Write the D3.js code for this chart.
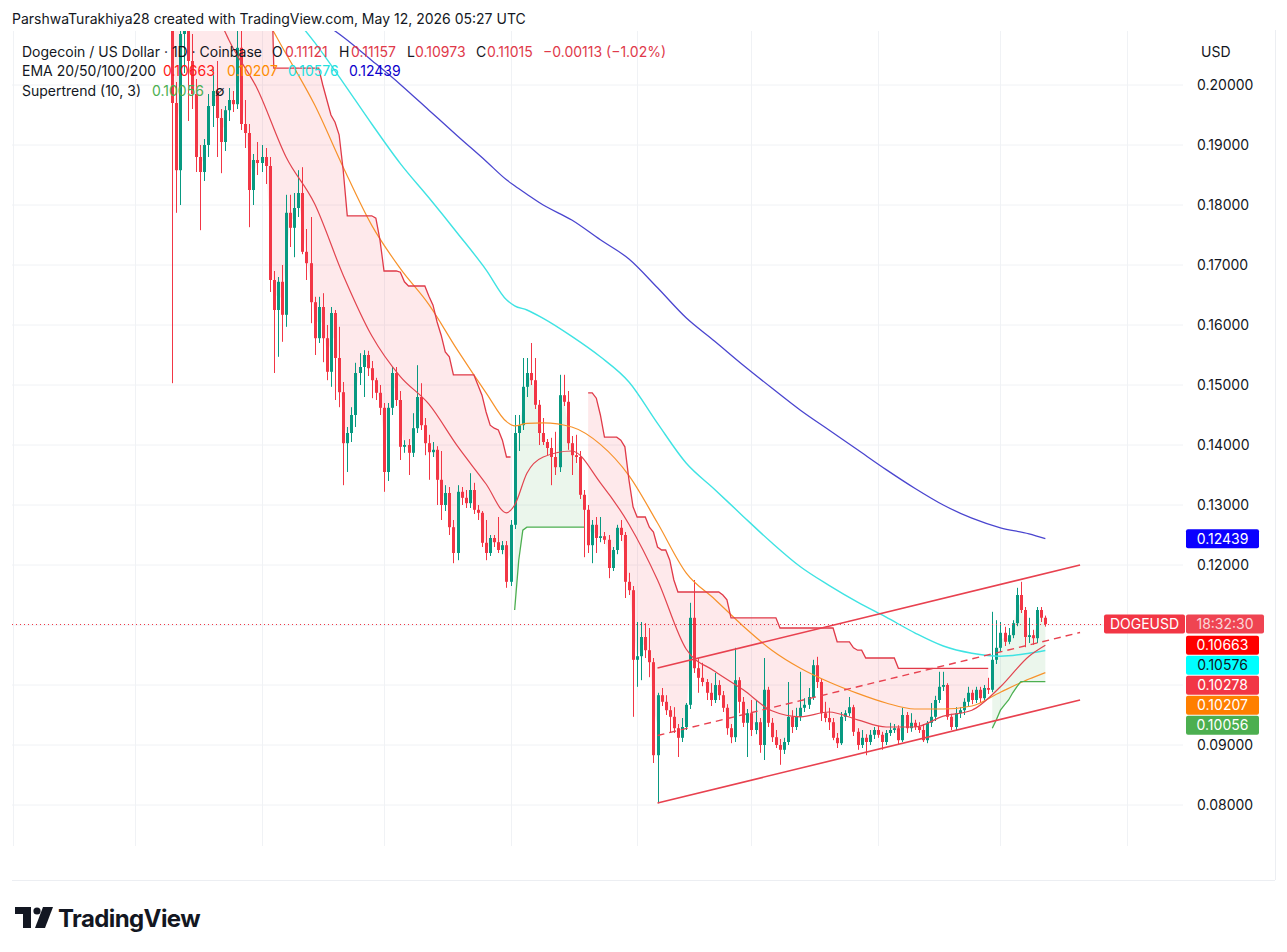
<!DOCTYPE html>
<html><head><meta charset="utf-8">
<script src="https://cdn.jsdelivr.net/npm/d3@7"></script>
<style>
body{margin:0;background:#fff;}
svg{display:block;font-family:Inter,"Noto Sans",Roboto,sans-serif;}
</style></head><body>
<svg id="c" width="1287" height="952"></svg>
<script>
// ---------- DATA ----------
const firstDate = "2025-10-10"; // one daily bar per day from here
const opens = [
0.2510,0.1970,0.1858,0.2085,0.2130,0.2040,0.1985,
0.1880,0.1855,0.1900,0.1965,0.1990,0.1945,0.1905,
0.1958,0.1975,0.1968,0.2062,0.1935,0.1920,0.1825,
0.1875,0.1870,0.1880,0.1865,0.1675,0.1625,0.1672,
0.1617,0.1787,0.1762,0.1795,0.1820,0.1722,0.1703,
0.1638,0.1578,0.1630,0.1578,0.1522,0.1620,0.1545,
0.1488,0.1403,0.1420,0.1450,0.1520,0.1530,0.1550,
0.1528,0.1508,0.1487,0.1462,0.1355,0.1462,0.1520,
0.1475,0.1397,0.1400,0.1387,0.1428,0.1480,0.1433,
0.1403,0.1388,0.1392,0.1342,0.1300,0.1320,0.1263,
0.1220,0.1322,0.1312,0.1303,0.1325,0.1292,0.1287,
0.1237,0.1220,0.1245,0.1238,0.1225,0.1233,0.1172,
0.1267,0.1420,0.1433,0.1497,0.1520,0.1508,0.1467,
0.1420,0.1405,0.1395,0.1380,0.1363,0.1483,0.1472,
0.1403,0.1383,0.1380,0.1317,0.1292,0.1233,0.1267,
0.1245,0.1248,0.1242,0.1195,0.1225,0.1262,0.1250,
0.1172,0.1158,0.1042,0.1048,0.1080,0.1058,0.1038,
0.0883,0.0983,0.0972,0.0958,0.0947,0.0928,0.0912,
0.0930,0.0967,0.1112,0.1028,0.1012,0.1005,0.0987,
0.0975,0.1000,0.0983,0.0962,0.0928,0.0913,0.1008,
0.0972,0.0937,0.0953,0.0925,0.0938,0.0900,0.0992,
0.0937,0.0913,0.0900,0.0892,0.0905,0.0947,0.0930,
0.0947,0.0962,0.0967,0.0980,0.1033,0.1005,0.0953,
0.0945,0.0938,0.0912,0.0903,0.0947,0.0953,0.0963,
0.0922,0.0900,0.0912,0.0905,0.0917,0.0925,0.0917,
0.0905,0.0920,0.0925,0.0928,0.0908,0.0950,0.0928,
0.0937,0.0930,0.0925,0.0908,0.0937,0.0947,0.0975,
0.0997,0.1000,0.0947,0.0930,0.0953,0.0958,0.0972,
0.0987,0.0975,0.0992,0.0978,0.0995,0.0992,0.1042,
0.1062,0.1087,0.1072,0.1083,0.1103,0.1150,0.1125,
0.1080,0.1083,0.1078,0.1125,0.11121];
const highs = [
0.2550,0.2005,0.2110,0.2190,0.2150,0.2085,0.2010,
0.1900,0.1910,0.1985,0.2030,0.2040,0.1960,0.1965,
0.1995,0.1990,0.2090,0.2095,0.1975,0.1935,0.1885,
0.1905,0.1900,0.1895,0.1880,0.1690,0.1680,0.1700,
0.1817,0.1817,0.1820,0.1858,0.1863,0.1760,0.1780,
0.1647,0.1647,0.1653,0.1600,0.1630,0.1625,0.1597,
0.1505,0.1430,0.1463,0.1537,0.1553,0.1558,0.1557,
0.1540,0.1512,0.1500,0.1470,0.1470,0.1530,0.1530,
0.1490,0.1408,0.1410,0.1453,0.1533,0.1503,0.1445,
0.1417,0.1405,0.1398,0.1390,0.1333,0.1330,0.1275,
0.1333,0.1330,0.1325,0.1353,0.1337,0.1300,0.1290,
0.1275,0.1250,0.1250,0.1280,0.1240,0.1240,0.1275,
0.1450,0.1450,0.1545,0.1545,0.1570,0.1545,0.1475,
0.1445,0.1410,0.1412,0.1422,0.1517,0.1517,0.1490,
0.1415,0.1417,0.1390,0.1325,0.1300,0.1275,0.1280,
0.1280,0.1255,0.1250,0.1230,0.1267,0.1275,0.1255,
0.1187,0.1165,0.1105,0.1105,0.1103,0.1095,0.1045,
0.0987,0.0995,0.0983,0.0965,0.0963,0.0935,0.0945,
0.0970,0.1137,0.1175,0.1045,0.1037,0.1010,0.1003,
0.1020,0.1008,0.0990,0.0968,0.0935,0.1062,0.1013,
0.0980,0.0960,0.0975,0.0975,0.0945,0.1045,0.0997,
0.0945,0.0925,0.0910,0.0912,0.1005,0.0958,0.0962,
0.1022,0.0978,0.0995,0.1042,0.1047,0.1010,0.0972,
0.0962,0.0945,0.0920,0.0955,0.0958,0.0980,0.0967,
0.0928,0.0925,0.0918,0.0925,0.0930,0.0932,0.0922,
0.0925,0.0937,0.0935,0.0933,0.0962,0.0955,0.0953,
0.0942,0.0938,0.0935,0.0940,0.0970,0.0982,0.1022,
0.1022,0.1003,0.0952,0.0963,0.0963,0.0978,0.0997,
0.0992,0.0997,0.0997,0.1000,0.1012,0.1122,0.1108,
0.1105,0.1097,0.1095,0.1108,0.1162,0.1172,0.1130,
0.1112,0.1092,0.1130,0.1130,0.11157];
const lows = [
0.1503,0.1787,0.1800,0.2020,0.1940,0.1960,0.1855,
0.1758,0.1840,0.1880,0.1930,0.1880,0.1853,0.1890,
0.1940,0.1955,0.1960,0.1925,0.1895,0.1763,0.1800,
0.1850,0.1855,0.1835,0.1655,0.1520,0.1547,0.1572,
0.1597,0.1730,0.1713,0.1780,0.1718,0.1675,0.1603,
0.1550,0.1570,0.1538,0.1508,0.1497,0.1475,0.1463,
0.1333,0.1355,0.1405,0.1430,0.1500,0.1480,0.1515,
0.1478,0.1475,0.1450,0.1322,0.1340,0.1450,0.1465,
0.1375,0.1387,0.1350,0.1380,0.1420,0.1425,0.1383,
0.1342,0.1380,0.1300,0.1275,0.1290,0.1250,0.1203,
0.1208,0.1300,0.1295,0.1295,0.1285,0.1275,0.1230,
0.1208,0.1215,0.1230,0.1220,0.1218,0.1162,0.1165,
0.1260,0.1390,0.1425,0.1480,0.1500,0.1460,0.1400,
0.1400,0.1383,0.1333,0.1350,0.1355,0.1465,0.1392,
0.1350,0.1370,0.1310,0.1213,0.1220,0.1203,0.1220,
0.1238,0.1235,0.1178,0.1190,0.1218,0.1240,0.1145,
0.1150,0.0947,0.0997,0.1008,0.1045,0.1013,0.0870,
0.0803,0.0965,0.0950,0.0920,0.0920,0.0880,0.0905,
0.0925,0.0960,0.1020,0.0987,0.0998,0.0975,0.0965,
0.0970,0.0975,0.0955,0.0917,0.0903,0.0905,0.0953,
0.0930,0.0880,0.0915,0.0918,0.0887,0.0875,0.0930,
0.0905,0.0895,0.0867,0.0885,0.0900,0.0920,0.0925,
0.0940,0.0955,0.0960,0.0975,0.0995,0.0940,0.0938,
0.0925,0.0908,0.0895,0.0900,0.0940,0.0948,0.0915,
0.0892,0.0895,0.0883,0.0900,0.0910,0.0912,0.0892,
0.0900,0.0915,0.0920,0.0900,0.0905,0.0920,0.0922,
0.0925,0.0920,0.0905,0.0903,0.0930,0.0940,0.0970,
0.0990,0.0942,0.0925,0.0925,0.0945,0.0950,0.0965,
0.0968,0.0970,0.0970,0.0975,0.0985,0.0988,0.1035,
0.1055,0.1065,0.1068,0.1078,0.1098,0.1120,0.1063,
0.1070,0.1067,0.1070,0.1105,0.10973];
const closes = [
0.1970,0.1858,0.2085,0.2130,0.2040,0.1985,0.1880,
0.1855,0.1900,0.1965,0.1990,0.1945,0.1905,0.1958,
0.1975,0.1968,0.2062,0.1935,0.1920,0.1825,0.1875,
0.1870,0.1880,0.1865,0.1675,0.1625,0.1672,0.1617,
0.1787,0.1762,0.1795,0.1820,0.1722,0.1703,0.1638,
0.1578,0.1630,0.1578,0.1522,0.1620,0.1545,0.1488,
0.1403,0.1420,0.1450,0.1520,0.1530,0.1550,0.1528,
0.1508,0.1487,0.1462,0.1355,0.1462,0.1520,0.1475,
0.1397,0.1400,0.1387,0.1428,0.1480,0.1433,0.1403,
0.1388,0.1392,0.1342,0.1300,0.1320,0.1263,0.1220,
0.1322,0.1312,0.1303,0.1325,0.1292,0.1287,0.1237,
0.1220,0.1245,0.1238,0.1225,0.1233,0.1172,0.1267,
0.1420,0.1433,0.1497,0.1520,0.1508,0.1467,0.1420,
0.1405,0.1395,0.1380,0.1363,0.1483,0.1472,0.1403,
0.1383,0.1380,0.1317,0.1292,0.1233,0.1267,0.1245,
0.1248,0.1242,0.1195,0.1225,0.1262,0.1250,0.1172,
0.1158,0.1042,0.1048,0.1080,0.1058,0.1038,0.0883,
0.0983,0.0972,0.0958,0.0947,0.0928,0.0912,0.0930,
0.0967,0.1112,0.1028,0.1012,0.1005,0.0987,0.0975,
0.1000,0.0983,0.0962,0.0928,0.0913,0.1008,0.0972,
0.0937,0.0953,0.0925,0.0938,0.0900,0.0992,0.0937,
0.0913,0.0900,0.0892,0.0905,0.0947,0.0930,0.0947,
0.0962,0.0967,0.0980,0.1033,0.1005,0.0953,0.0945,
0.0938,0.0912,0.0903,0.0947,0.0953,0.0963,0.0922,
0.0900,0.0912,0.0905,0.0917,0.0925,0.0917,0.0905,
0.0920,0.0925,0.0928,0.0908,0.0950,0.0928,0.0937,
0.0930,0.0925,0.0908,0.0937,0.0947,0.0975,0.0997,
0.1000,0.0947,0.0930,0.0953,0.0958,0.0972,0.0987,
0.0975,0.0992,0.0978,0.0995,0.0992,0.1042,0.1062,
0.1087,0.1072,0.1083,0.1103,0.1150,0.1125,0.1080,
0.1083,0.1078,0.1125,0.11121,0.11015];
// Supertrend (10, 3) value per bar
const supertrend = [
0.2300,0.2300,0.2300,0.2300,0.2300,0.2300,0.2300,
0.2300,0.2300,0.2300,0.2300,0.2300,0.2300,0.2300,
0.2300,0.2300,0.2300,0.2300,0.2300,0.2300,0.2300,
0.2300,0.2300,0.2300,0.2300,0.2028,0.2028,0.2028,
0.2028,0.2028,0.2028,0.2028,0.2028,0.2028,0.2028,
0.2028,0.2028,0.2000,0.1975,0.1950,0.1938,0.1917,
0.1858,0.1782,0.1782,0.1782,0.1782,0.1782,0.1782,
0.1782,0.1778,0.1742,0.1690,0.1690,0.1690,0.1690,
0.1688,0.1672,0.1665,0.1665,0.1665,0.1665,0.1665,
0.1648,0.1633,0.1605,0.1583,0.1555,0.1547,0.1517,
0.1517,0.1517,0.1517,0.1517,0.1517,0.1500,0.1483,
0.1455,0.1433,0.1428,0.1425,0.1408,0.1380,0.1380,
0.1125,0.1208,0.1258,0.1263,0.1263,0.1263,0.1263,
0.1263,0.1263,0.1263,0.1263,0.1263,0.1263,0.1263,
0.1263,0.1263,0.1263,0.1263,0.1487,0.1487,0.1478,
0.1450,0.1413,0.1413,0.1413,0.1413,0.1408,0.1397,
0.1342,0.1297,0.1280,0.1280,0.1280,0.1263,0.1255,
0.1230,0.1225,0.1225,0.1208,0.1175,0.1155,0.1155,
0.1155,0.1155,0.1155,0.1155,0.1155,0.1155,0.1155,
0.1155,0.1155,0.1150,0.1142,0.1112,0.1112,0.1112,
0.1112,0.1112,0.1112,0.1112,0.1112,0.1112,0.1112,
0.1112,0.1112,0.1095,0.1095,0.1095,0.1095,0.1095,
0.1095,0.1095,0.1095,0.1095,0.1095,0.1095,0.1095,
0.1095,0.1095,0.1072,0.1072,0.1072,0.1072,0.1062,
0.1058,0.1058,0.1045,0.1045,0.1045,0.1045,0.1045,
0.1045,0.1045,0.1045,0.10278,0.10278,0.10278,0.10278,
0.10278,0.10278,0.10278,0.10278,0.10278,0.10278,0.10278,
0.10278,0.10278,0.10278,0.10278,0.10278,0.10278,0.10278,
0.10278,0.10278,0.10278,0.10278,0.10278,0.0928,0.0942,
0.0958,0.0967,0.0975,0.0987,0.0997,0.10056,0.10056,
0.10056,0.10056,0.10056,0.10056,0.10056];

// EMA samples
const emaDates = ["2025-10-10","2025-10-17","2025-10-24","2025-10-31","2025-11-07","2025-11-14","2025-11-21","2025-11-28",
 "2025-12-05","2025-12-12","2025-12-19","2025-12-26","2025-12-31","2026-01-02","2026-01-05","2026-01-09","2026-01-16",
 "2026-01-23","2026-01-30","2026-02-06","2026-02-13","2026-02-20","2026-02-27","2026-03-06","2026-03-13","2026-03-20",
 "2026-03-27","2026-04-03","2026-04-10","2026-04-17","2026-04-24","2026-05-01","2026-05-08","2026-05-12"];
const ema20 = [0.2400,0.2195,0.2075,0.1993,0.1880,0.1802,0.1683,0.1582,0.1514,0.1468,0.1398,0.1335,0.1287,0.1300,0.1353,
 0.1380,0.1390,0.1337,0.1268,0.1175,0.1060,0.1023,0.0992,0.0957,0.0947,0.0955,0.0942,0.0930,0.0930,0.0948,0.0958,0.0997,0.1048,0.10663];
const ema50 = [0.2340,0.2265,0.2205,0.2135,0.2052,0.1967,0.1863,0.1766,0.1694,0.1634,0.1558,0.1487,0.1439,0.1432,0.1436,
 0.1437,0.1430,0.1401,0.1349,0.1270,0.1187,0.1143,0.1098,0.1058,0.1028,0.1005,0.0986,0.0970,0.0960,0.0960,0.0965,0.0988,0.1010,0.10207];
const ema100 = [0.2245,0.2225,0.2200,0.2169,0.2127,0.2071,0.2004,0.1935,0.1869,0.1812,0.1753,0.1692,0.1642,0.1632,0.1625,
 0.1611,0.1581,0.1547,0.1505,0.1436,0.1370,0.1326,0.1281,0.1237,0.1197,0.1166,0.1138,0.1113,0.1087,0.1065,0.1053,0.1048,0.1053,0.10576];
const ema200 = [0.2225,0.2205,0.2185,0.2164,0.2141,0.2113,0.2080,0.2041,0.2001,0.1958,0.1915,0.1873,0.1842,0.1832,0.1818,
 0.1800,0.1775,0.1742,0.1710,0.1662,0.1612,0.1573,0.1533,0.1495,0.1458,0.1425,0.1392,0.1359,0.1328,0.1300,0.1278,0.1262,0.1252,0.12439];

// Channel drawing
const channelDates = ["2026-02-06T00:00:00Z","2026-05-20T12:00:00Z"];
const channelUpper = [0.10283,0.12000];
const channelMid   = [0.09158,0.10875];
const channelLower = [0.08033,0.09750];

const lastPrice = 0.11015;
const priceTicks = [0.08,0.09,0.10,0.11,0.12,0.13,0.14,0.15,0.16,0.17,0.18,0.19,0.20];
const priceTickLabels = [0.08,0.09,0.12,0.13,0.14,0.15,0.16,0.17,0.18,0.19,0.20]; // 0.10 / 0.11 hidden under the labels
const monthTicks = ["2025-09-01","2025-10-01","2025-11-01","2025-12-01","2026-01-01","2026-02-01","2026-03-01","2026-04-01","2026-05-01","2026-06-01"];
const monthLabels = ["Sep","Oct","Nov","Dec","2026","Feb","Mar","Apr","May","Jun"];

// ---------- CHART ----------
const svg = d3.select("#c");
const P = {left:12, right:1183, top:31, bottom:846};
const x = d3.scaleUtc().domain([new Date("2025-10-01T00:00:00Z"), new Date("2026-06-01T00:00:00Z")]).range([135,1127]);
const y = d3.scaleLinear().domain([0.08,0.20]).range([805,85]);
const t0 = new Date(firstDate+"T00:00:00Z").getTime();
const bars = closes.map((c,i)=>({d:new Date(t0+i*864e5), o:opens[i], h:highs[i], l:lows[i], c, st:supertrend[i]}));

const defs = svg.append("defs");
defs.append("clipPath").attr("id","plot").append("rect").attr("x",P.left).attr("y",P.top).attr("width",P.right-P.left).attr("height",P.bottom-P.top);
defs.append("clipPath").attr("id","taxis").append("rect").attr("x",P.left).attr("y",P.bottom).attr("width",1275-P.left).attr("height",40);

// grid
const grid = svg.append("g");
grid.selectAll("line.h").data(priceTicks).join("line")
  .attr("x1",P.left).attr("x2",P.right).attr("y1",d=>y(d)).attr("y2",d=>y(d))
  .attr("stroke","#f0f2f5").attr("stroke-width",1);
grid.selectAll("line.v").data(monthTicks).join("line")
  .attr("x1",d=>Math.round(x(new Date(d+"T00:00:00Z")))+0.5).attr("x2",d=>Math.round(x(new Date(d+"T00:00:00Z")))+0.5)
  .attr("y1",P.top).attr("y2",P.bottom).attr("stroke","#f0f2f5").attr("stroke-width",1);

// frame lines
svg.append("line").attr("x1",P.left).attr("x2",1275).attr("y1",880.5).attr("y2",880.5).attr("stroke","#eceef2");
svg.append("line").attr("x1",1275.5).attr("x2",1275.5).attr("y1",30).attr("y2",880).attr("stroke","#eceef2");

const plot = svg.append("g").attr("clip-path","url(#plot)");

// supertrend segments
const segs=[]; let cur=null;
bars.forEach(b=>{const dir=b.st>b.c?"down":"up"; if(!cur||cur.dir!==dir){cur={dir,pts:[]};segs.push(cur);} cur.pts.push(b);});
const area = d3.area().x(b=>x(b.d)).y0(b=>y(b.st)).y1(b=>y((b.o+b.c)/2));
plot.selectAll("path.stfill").data(segs).join("path")
  .attr("d",s=>area(s.pts)).attr("fill",s=>s.dir==="down"?"rgba(242,54,69,0.11)":"rgba(76,175,80,0.11)");

// candles
const up="#089981", dn="#f23645";
const cg = plot.append("g");
cg.selectAll("line").data(bars).join("line")
  .attr("x1",b=>Math.round(x(b.d))+0.5).attr("x2",b=>Math.round(x(b.d))+0.5)
  .attr("y1",b=>y(b.h)).attr("y2",b=>y(b.l))
  .attr("stroke",b=>b.c>=b.o?up:dn).attr("stroke-width",1);
cg.selectAll("rect").data(bars).join("rect")
  .attr("x",b=>Math.round(x(b.d))-1).attr("width",3)
  .attr("y",b=>y(Math.max(b.o,b.c))).attr("height",b=>Math.max(1,Math.abs(y(b.o)-y(b.c))))
  .attr("fill",b=>b.c>=b.o?up:dn);

// EMAs
const emaPts = vals => emaDates.map((d,i)=>({d:new Date(d+"T00:00:00Z"), v:vals[i]}));
const emaLine = d3.line().x(p=>x(p.d)).y(p=>y(p.v)).curve(d3.curveMonotoneX);
[[ema200,"#4a45cf",1.3],[ema100,"#3fe3e3",1.4],[ema50,"#f7922a",1.2],[ema20,"#e2444f",1.2]].forEach(([v,c,w])=>{
  plot.append("path").attr("d",emaLine(emaPts(v))).attr("fill","none").attr("stroke",c).attr("stroke-width",w);
});

// supertrend lines
const stLine = d3.line().x(b=>x(b.d)).y(b=>y(b.st));
plot.selectAll("path.stl").data(segs).join("path")
  .attr("d",s=>stLine(s.pts)).attr("fill","none")
  .attr("stroke",s=>s.dir==="down"?"#e03a48":"#4caf50").attr("stroke-width",1.3);

// channel
const chPts = vals => channelDates.map((d,i)=>({d:new Date(d), v:vals[i]}));
const chLine = d3.line().x(p=>x(p.d)).y(p=>y(p.v));
plot.append("path").attr("d",chLine(chPts(channelUpper))).attr("stroke","#e8414f").attr("stroke-width",1.6).attr("fill","none");
plot.append("path").attr("d",chLine(chPts(channelLower))).attr("stroke","#e8414f").attr("stroke-width",1.6).attr("fill","none");
plot.append("path").attr("d",chLine(chPts(channelMid))).attr("stroke","#e8414f").attr("stroke-width",1.4).attr("stroke-dasharray","7,5").attr("fill","none");

// last price dotted line
svg.append("line").attr("x1",P.left).attr("x2",1104).attr("y1",Math.round(y(lastPrice))+0.5).attr("y2",Math.round(y(lastPrice))+0.5)
  .attr("stroke","#f23645").attr("stroke-width",1).attr("stroke-dasharray","1,3");

// price axis
const ya = svg.append("g").attr("transform",`translate(${P.right},0)`)
  .call(d3.axisRight(y).tickValues(priceTickLabels).tickFormat(d3.format(".5f")).tickSize(0).tickPadding(14));
ya.select(".domain").remove();
ya.selectAll("text").attr("font-size",14).attr("fill","#131722").attr("font-family","Inter,Roboto,sans-serif");
svg.append("text").attr("x",1201).attr("y",57).attr("font-size",14).attr("fill","#131722").text("USD");

// time axis
const xa = svg.append("g").attr("transform",`translate(0,${P.bottom})`).attr("clip-path","url(#taxis)")
  .call(d3.axisBottom(x).tickValues(monthTicks.map(d=>new Date(d+"T00:00:00Z"))).tickFormat((d,i)=>monthLabels[i]).tickSize(0).tickPadding(13));
xa.select(".domain").remove();
xa.selectAll("text").attr("font-size",14).attr("fill","#131722").attr("font-family","Inter,Roboto,sans-serif")
  .attr("font-weight",(d,i)=>monthLabels[i]==="2026"?700:400);

// right-side labels
function box(x0,w,cy,fill,txt,tcol){
  svg.append("rect").attr("x",x0).attr("y",cy-9.5).attr("width",w).attr("height",19).attr("rx",2).attr("fill",fill);
  svg.append("text").attr("x",x0+w/2).attr("y",cy+5).attr("text-anchor","middle").attr("font-size",14).attr("fill",tcol).text(txt);
}
box(1186,73,y(0.12439),"#0a00ff","0.12439","#fff");
box(1104,81,y(lastPrice),"#f23645","DOGEUSD","#fff");
box(1186,78,y(lastPrice),"#ef4452","18:32:30","rgba(255,255,255,0.78)");
const stackLabels = [[0.10663,"#ff0000","#fff"],[0.10576,"#00ffff","#131722"],[0.10278,"#f23645","#fff"],[0.10207,"#ff7f00","#fff"],[0.10056,"#4caf50","#fff"]];
let prev = -1e9;
stackLabels.forEach(([v,f,t])=>{ let cy=Math.max(y(v),prev+20); prev=cy; box(1186,73,cy,f,v.toFixed(5),t); });

// header texts
const T = (xx,yy,txt,col,size,weight)=>svg.append("text").attr("x",xx).attr("y",yy).attr("font-size",size||14).attr("fill",col||"#131722").attr("font-weight",weight||400).text(txt);
T(12,24,"ParshwaTurakhiya28 created with TradingView.com, May 12, 2026 05:27 UTC","#131722",14);
const red="#e0394a";
T(22,57,"Dogecoin / US Dollar · 1D · Coinbase");
T(272,57,"O"); T(285,57,"0.11121",red);
T(339,57,"H"); T(351,57,"0.11157",red);
T(407,57,"L"); T(415,57,"0.10973",red);
T(476,57,"C"); T(487,57,"0.11015",red);
T(543,57,"−0.00113 (−1.02%)",red);
T(22,76,"EMA 20/50/100/200");
T(163,76,"0.10663","#ff1a1a"); T(227,76,"0.10207","#ff8c00"); T(288,76,"0.10576","#22e0e0"); T(349,76,"0.12439","#0c00cc");
T(22,96,"Supertrend (10, 3)");
T(152,96,"0.10056","#4caf50"); T(215,96,"∅","#131722");

// TradingView logo
const lg = svg.append("g").attr("fill","#131722");
lg.append("path").attr("d","M15 907 H31 V928 H23 V914 H15 Z");
lg.append("circle").attr("cx",37).attr("cy",911).attr("r",3.6);
lg.append("path").attr("d","M43 907 H53 L45 928 H35 Z");
T(58,927,"TradingView","#131722",24,700).attr("letter-spacing","-0.6");
</script>
</body></html>
